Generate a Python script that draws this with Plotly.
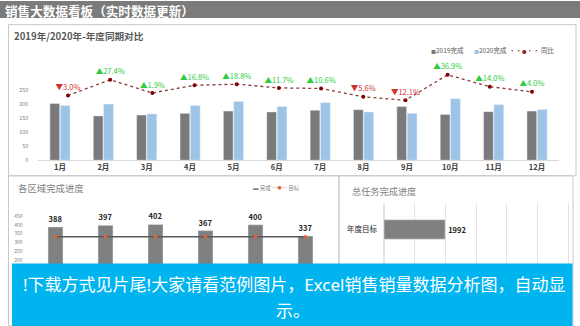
import plotly.graph_objects as go

# ---------------- data ----------------
months = ["1月", "2月", "3月", "4月", "5月", "6月", "7月", "8月", "9月", "10月", "11月", "12月"]
sales_2019 = [202, 158, 161, 167, 175, 172, 178, 180, 191, 163, 173, 175]
sales_2020 = [195, 200, 165, 195, 209, 191, 205, 172, 167, 219, 198, 181]
yoy_pct = [-3.0, 27.4, 1.9, 16.8, 18.8, 11.7, 10.6, -5.6, -12.1, 36.9, 14.0, 4.0]

regions = ["区域1", "区域2", "区域3", "区域4", "区域5", "区域6"]
region_done = [388, 397, 402, 367, 400, 337]
region_target = [332, 332, 332, 332, 332, 332]

task_names = ["年度目标"]
task_values = [1992]

top_yticks = [0, 50, 100, 150, 200, 250]
region_yticks = [200, 250, 300, 350, 400, 450]

# ---------------- style ----------------
W, H = 580, 326
FONT = "Noto Sans CJK SC"
BANNER_FONT = "Noto Sans, Noto Sans CJK SC"
C19 = "#7a7a7a"
C20 = "#9dc3e6"
UP = "#2ecc40"
DOWN = "#d0312d"
GRAY_BAR = "#808080"
BORDER = "#c9c9c9"
BANNER = "#00b4f0"


def X(px):
    return px / W


def Y(py):
    return 1 - py / H


yoy_text = [("▲" if p >= 0 else "▼") + f"{abs(p):.1f}%" for p in yoy_pct]
yoy_colors = [UP if p >= 0 else DOWN for p in yoy_pct]

fig = go.Figure()

# top chart
fig.add_trace(go.Bar(x=months, y=sales_2019, name="2019完成", marker_color=C19,
                     width=0.225, offset=-0.232, xaxis="x", yaxis="y"))
fig.add_trace(go.Bar(x=months, y=sales_2020, name="2020完成", marker_color=C20,
                     width=0.225, offset=0.007, xaxis="x", yaxis="y"))
fig.add_trace(go.Scatter(x=months, y=yoy_pct, name="同比", xaxis="x2", yaxis="y2",
                         mode="lines+markers+text", text=yoy_text,
                         textposition="top center",
                         textfont=dict(color=yoy_colors, size=7.5, family=FONT),
                         line=dict(color="#8b3a3a", dash="dot", width=1.3),
                         marker=dict(color="#7f0000", size=4), cliponaxis=False))

# bottom-left chart
fig.add_trace(go.Bar(x=regions, y=region_done, name="完成", xaxis="x3", yaxis="y3",
                     width=0.3, marker_color=GRAY_BAR,
                     texttemplate="<b>%{y}</b>", textposition="outside",
                     constraintext="none",
                     textfont=dict(size=7.5, color="#262626", family=FONT),
                     cliponaxis=False))
fig.add_trace(go.Scatter(x=regions, y=region_target, name="目标", xaxis="x3", yaxis="y3",
                         mode="lines+markers",
                         line=dict(color="#595959", width=1.5),
                         marker=dict(color="#e8602c", size=3.5)))

# bottom-right chart
fig.add_trace(go.Bar(y=task_names, x=task_values, orientation="h", xaxis="x4", yaxis="y4",
                     width=0.73, marker_color=GRAY_BAR,
                     texttemplate="<b>%{x}</b>", textposition="outside",
                     constraintext="none",
                     textfont=dict(size=7.5, color="#262626", family=FONT),
                     cliponaxis=False))

top_dom_x = [X(38.3), X(558.7)]
top_dom_y = [Y(161.7), Y(60)]

fig.update_layout(
    width=W, height=H,
    margin=dict(l=0, r=0, t=0, b=0),
    paper_bgcolor="white", plot_bgcolor="rgba(0,0,0,0)",
    showlegend=False, barmode="overlay",
    font=dict(family=FONT, color="#595959"),
    xaxis=dict(domain=top_dom_x, anchor="y", type="category",
               tickvals=months, ticktext=[f"<b>{m}</b>" for m in months],
               tickfont=dict(size=7.5, color="#404040"),
               showline=True, linecolor="#d9d9d9", linewidth=1,
               showgrid=False, ticks="", fixedrange=True),
    yaxis=dict(domain=top_dom_y, anchor="x", range=[0, 356.8],
               tickvals=top_yticks, tickfont=dict(size=5.5, color="#7f7f7f"),
               showgrid=False, zeroline=False, ticklabelstandoff=9),
    xaxis2=dict(overlaying="x", anchor="y2", domain=top_dom_x, type="category",
                categoryorder="array", categoryarray=months,
                range=[-0.704, 11.633], visible=False),
    yaxis2=dict(overlaying="y", anchor="x2", range=[-128, 65.4], visible=False),
    xaxis3=dict(domain=[X(30.5), X(330.5)], anchor="y3", type="category",
                showticklabels=False, showgrid=False, showline=False, ticks=""),
    yaxis3=dict(domain=[Y(299.3), Y(215)], anchor="x3", range=[0, 468],
                tickvals=region_yticks, tickfont=dict(size=5, color="#7f7f7f"),
                showgrid=False, zeroline=False, ticklabelstandoff=7),
    xaxis4=dict(domain=[X(384), X(572)], anchor="y4", range=[0, 6124], dtick=1000,
                showgrid=True, gridcolor="#e3e3e3", zeroline=True,
                zerolinecolor="#e3e3e3", showticklabels=False, ticks=""),
    yaxis4=dict(domain=[Y(300), Y(205)], anchor="x4", type="category",
                range=[-2.52, 1], showgrid=False,
                tickfont=dict(size=7.5, color="#262626"), ticklabelstandoff=6),
)

shapes = [
    # header bar
    dict(type="rect", xref="paper", yref="paper", x0=0, x1=1, y0=Y(17.3), y1=1,
         fillcolor="#7b7b7b", line=dict(width=0), layer="below"),
    # panels
    dict(type="rect", xref="paper", yref="paper", x0=X(8.5), x1=X(576), y0=Y(177.5), y1=Y(24),
         fillcolor="rgba(0,0,0,0)", line=dict(color=BORDER, width=1), layer="below"),
    dict(type="rect", xref="paper", yref="paper", x0=X(8.5), x1=X(339), y0=Y(330), y1=Y(177.5),
         fillcolor="rgba(0,0,0,0)", line=dict(color=BORDER, width=1), layer="below"),
    dict(type="rect", xref="paper", yref="paper", x0=X(339), x1=X(573), y0=Y(330), y1=Y(177.5),
         fillcolor="rgba(0,0,0,0)", line=dict(color=BORDER, width=1), layer="below"),
    # banner
    dict(type="rect", xref="paper", yref="paper", x0=X(12), x1=X(572.5), y0=Y(330), y1=Y(266.7),
         fillcolor=BANNER, line=dict(width=0), layer="above"),
]


def ann(text, xpx, ypx, size, color, xanchor="left", family=FONT):
    return dict(text=text, x=X(xpx), y=Y(ypx), xref="paper", yref="paper",
                xanchor=xanchor, yanchor="middle", showarrow=False,
                font=dict(size=size, color=color, family=family))


annotations = [
    ann("<b>销售大数据看板（实时数据更新）</b>", 2.5, 9.5, 12.6, "white"),
    ann("<b>2019年/2020年-年度同期对比</b>", 11.5, 35.5, 9.6, "#595959"),
    ann(f"<span style='color:{C19};font-size:5px'>■</span>2019完成", 429, 50, 6.5, "#595959"),
    ann(f"<span style='color:{C20};font-size:5px'>■</span>2020完成", 472, 50, 6.5, "#595959"),
    ann("<span style='color:#8b2a2a'>··</span><span style='color:#8b2a2a;font-size:4.5px'>●</span><span style='color:#8b2a2a'>··</span> 同比",
        507, 50, 6.5, "#595959"),
    ann("各区域完成进度", 15.5, 190, 9.4, "#7f7f7f"),
    ann(f"<span style='color:{GRAY_BAR}'>▬</span> 完成 <span style='color:#595959'>─</span><span style='color:#e8602c;font-size:4px'>●</span><span style='color:#595959'>─</span> 目标",
        251, 190, 5.5, "#7f7f7f"),
    ann("总任务完成进度", 350, 193, 9.2, "#7f7f7f"),
    ann("!下载方式见片尾!大家请看范例图片，Excel销售销量数据分析图，自动显", 294, 288, 17, "white",
        "center", BANNER_FONT),
    ann("示。", 293, 314.5, 17, "white", "center", BANNER_FONT),
]

fig.update_layout(shapes=shapes, annotations=annotations)

fig.write_html("out.html")
